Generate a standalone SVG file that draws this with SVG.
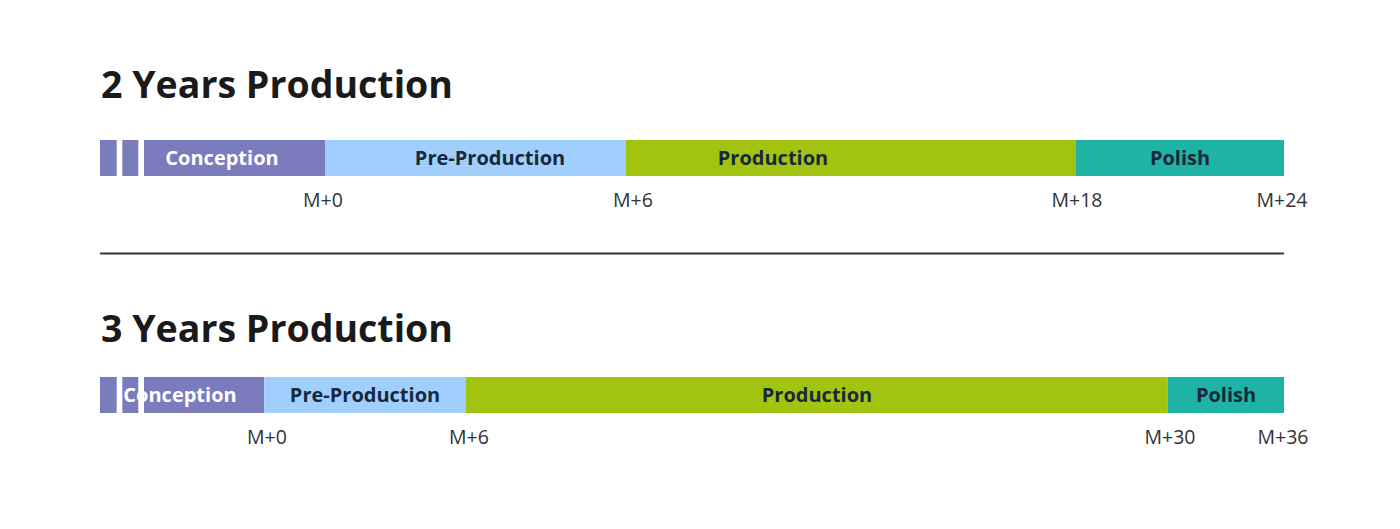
<svg xmlns="http://www.w3.org/2000/svg" width="1400" height="529" viewBox="0 0 1400 529">
<style>
.title{font-family:"Open Sans","Noto Sans",sans-serif;font-weight:700;font-size:37px;fill:#1a1a1a}
.lbl{font-family:"Open Sans","Noto Sans",sans-serif;font-weight:700;font-size:20px;fill:#17283a;text-anchor:middle}
.lblw{fill:#ffffff}
.tick{font-family:"Open Sans","Noto Sans",sans-serif;font-size:19.5px;fill:#333333;text-anchor:middle}
.con{fill:#7a7cbd}
.pre{fill:#a1cffd}
.pro{fill:#a2c410}
.pol{fill:#1eb3a5}
</style>
<rect width="1400" height="529" fill="#ffffff"/>
<g id="timeline-2y">
<text class="title" x="101" y="98" textLength="352" lengthAdjust="spacingAndGlyphs">2 Years Production</text>
<g id="t2-conception">
<rect class="con" x="100" y="140" width="16.7" height="36"/>
<rect class="con" x="122.3" y="140" width="16" height="36"/>
<rect class="con" x="144" y="140" width="181.5" height="36"/>
<text class="lbl lblw" x="222" y="165">Conception</text>
</g>
<g id="t2-preproduction">
<rect class="pre" x="325.5" y="140" width="300.5" height="36"/>
<text class="lbl" x="490" y="165">Pre-Production</text>
</g>
<g id="t2-production">
<rect class="pro" x="626" y="140" width="450" height="36"/>
<text class="lbl" x="773" y="165">Production</text>
</g>
<g id="t2-polish">
<rect class="pol" x="1076" y="140" width="208" height="36"/>
<text class="lbl" x="1180" y="165">Polish</text>
</g>
<text class="tick" x="323" y="207">M+0</text>
<text class="tick" x="633" y="207">M+6</text>
<text class="tick" x="1077" y="207">M+18</text>
<text class="tick" x="1282" y="207">M+24</text>
</g>
<g id="connectors">
<line x1="100" y1="253.5" x2="1284" y2="253.5" stroke="#333333" stroke-width="2"/>
</g>
<g id="timeline-3y">
<text class="title" x="101" y="342" textLength="352" lengthAdjust="spacingAndGlyphs">3 Years Production</text>
<g id="t3-conception">
<rect class="con" x="100" y="377" width="16.7" height="36"/>
<rect class="con" x="122.3" y="377" width="16" height="36"/>
<rect class="con" x="144" y="377" width="120.3" height="36"/>
<text class="lbl lblw" x="180" y="402">Conception</text>
</g>
<g id="t3-preproduction">
<rect class="pre" x="264.3" y="377" width="201.7" height="36"/>
<text class="lbl" x="365" y="402">Pre-Production</text>
</g>
<g id="t3-production">
<rect class="pro" x="466" y="377" width="701.7" height="36"/>
<text class="lbl" x="817" y="402">Production</text>
</g>
<g id="t3-polish">
<rect class="pol" x="1167.7" y="377" width="116.3" height="36"/>
<text class="lbl" x="1226" y="402">Polish</text>
</g>
<text class="tick" x="267" y="444">M+0</text>
<text class="tick" x="469" y="444">M+6</text>
<text class="tick" x="1170" y="444">M+30</text>
<text class="tick" x="1283" y="444">M+36</text>
</g>
</svg>
